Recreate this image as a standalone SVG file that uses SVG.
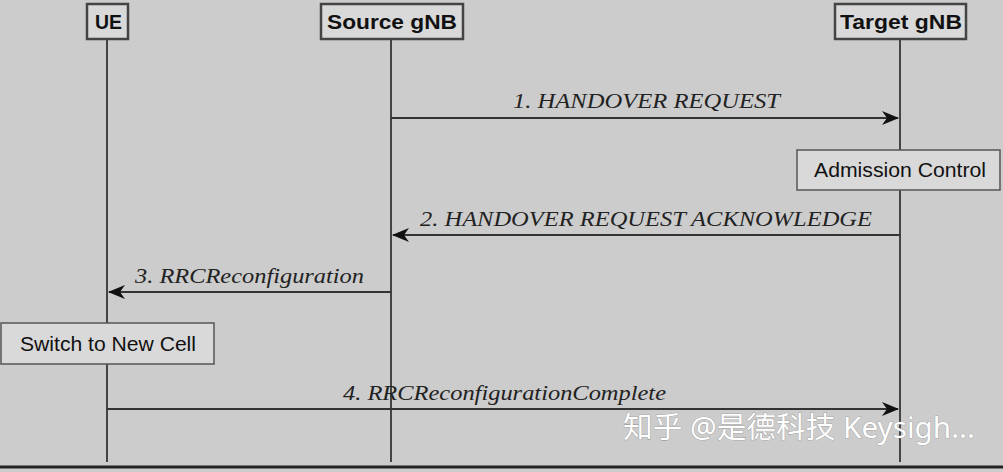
<svg xmlns="http://www.w3.org/2000/svg" width="1003" height="472" viewBox="0 0 1003 472">
<style>
.box{fill:#d9d9d9;stroke:#444;stroke-width:2.5}
.hd{font-family:"Liberation Sans",Arial,sans-serif;font-weight:bold;font-size:20px;fill:#111;text-anchor:middle}
.pb{fill:#d9d9d9;stroke:#555;stroke-width:1.5}
.pt{font-family:"Liberation Sans",Arial,sans-serif;font-size:20px;fill:#111;text-anchor:middle}
.life{stroke:#444;stroke-width:2}
.msg{stroke:#333;stroke-width:2;fill:none}
.lbl{font-family:"Liberation Serif","Times New Roman",serif;font-style:italic;font-size:22px;fill:#222;text-anchor:middle}
</style>
<defs><marker id="ah" markerWidth="18" markerHeight="14" refX="16" refY="7" orient="auto" markerUnits="userSpaceOnUse"><path d="M0,0 L17,7 L0,14 L5,7 Z" fill="#111"/></marker></defs>
<rect width="1003" height="472" fill="#cccccc"/>
<line x1="0" y1="467" x2="1003" y2="467" stroke="#222" stroke-width="3"/>
<g id="lifelines">
<line class="life" x1="107" y1="39" x2="107" y2="462"/>
<line class="life" x1="391" y1="39" x2="391" y2="462"/>
<line class="life" x1="900" y1="39" x2="900" y2="462"/>
</g>
<g id="ue"><rect class="box" x="87" y="4" width="41" height="35"/><text class="hd" x="108.5" y="29" textLength="27" lengthAdjust="spacingAndGlyphs">UE</text></g>
<g id="source"><rect class="box" x="321" y="4" width="142" height="35"/><text class="hd" x="392" y="29" textLength="130" lengthAdjust="spacingAndGlyphs">Source gNB</text></g>
<g id="target"><rect class="box" x="835" y="4" width="131" height="35"/><text class="hd" x="901" y="29" textLength="122" lengthAdjust="spacingAndGlyphs">Target gNB</text></g>
<g id="admission"><rect class="pb" x="797" y="150" width="203" height="40"/><text class="pt" x="900" y="177" textLength="172" lengthAdjust="spacingAndGlyphs">Admission Control</text></g>
<g id="switch"><rect class="pb" x="1" y="323" width="213" height="41"/><text class="pt" x="108" y="351" textLength="176" lengthAdjust="spacingAndGlyphs">Switch to New Cell</text></g>
<g id="connectors">
<line class="msg" x1="391" y1="118" x2="898" y2="118" marker-end="url(#ah)"/>
<text class="lbl" x="646.5" y="108" textLength="267" lengthAdjust="spacingAndGlyphs">1. HANDOVER REQUEST</text>
<line class="msg" x1="900" y1="235" x2="393" y2="235" marker-end="url(#ah)"/>
<text class="lbl" x="646" y="226" textLength="452" lengthAdjust="spacingAndGlyphs">2. HANDOVER REQUEST ACKNOWLEDGE</text>
<line class="msg" x1="391" y1="292" x2="109" y2="292" marker-end="url(#ah)"/>
<text class="lbl" x="249.5" y="283" textLength="229" lengthAdjust="spacingAndGlyphs">3. RRCReconfiguration</text>
<line class="msg" x1="107" y1="409" x2="898" y2="409" marker-end="url(#ah)"/>
<text class="lbl" x="504.5" y="400" textLength="323" lengthAdjust="spacingAndGlyphs">4. RRCReconfigurationComplete</text>
</g>
<text x="623" y="438" font-family="'Noto Sans','Noto Sans CJK SC',sans-serif" font-size="29" fill="#fff" stroke="#888" stroke-width="0.6" paint-order="stroke" textLength="352" lengthAdjust="spacingAndGlyphs">知乎 @是德科技 Keysigh...</text>
</svg>
